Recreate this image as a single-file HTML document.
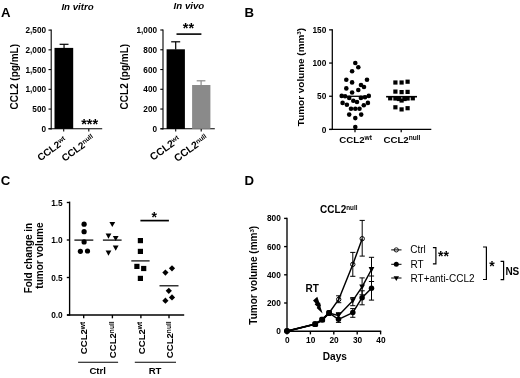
<!DOCTYPE html>
<html lang="en">
<head>
<meta charset="utf-8">
<title>Figure</title>
<style>
html,body{margin:0;padding:0;background:#fff;}
body{width:520px;height:378px;overflow:hidden;}
svg{display:block;font-family:"Liberation Sans", sans-serif;filter:blur(0.45px);}
</style>
</head>
<body>
<svg width="520" height="378" viewBox="0 0 520 378">
<rect x="0" y="0" width="520" height="378" fill="#fff"/>
<text x="0.90" y="17.00" font-size="13.2" font-weight="bold" font-style="normal" text-anchor="start" fill="#000">A</text>
<text x="244.60" y="17.10" font-size="13.2" font-weight="bold" font-style="normal" text-anchor="start" fill="#000">B</text>
<text x="0.80" y="185.10" font-size="13.2" font-weight="bold" font-style="normal" text-anchor="start" fill="#000">C</text>
<text x="244.40" y="185.20" font-size="13.2" font-weight="bold" font-style="normal" text-anchor="start" fill="#000">D</text>
<line x1="51.20" y1="29.50" x2="51.20" y2="129.40" stroke="#000" stroke-width="1.1" stroke-linecap="butt"/>
<line x1="48.50" y1="128.80" x2="102.20" y2="128.80" stroke="#000" stroke-width="1.1" stroke-linecap="butt"/>
<line x1="48.50" y1="128.80" x2="51.20" y2="128.80" stroke="#000" stroke-width="1.1" stroke-linecap="butt"/>
<text x="46.00" y="131.85" font-size="8.2" font-weight="bold" font-style="normal" text-anchor="end" fill="#000">0</text>
<line x1="48.50" y1="109.06" x2="51.20" y2="109.06" stroke="#000" stroke-width="1.1" stroke-linecap="butt"/>
<text x="46.00" y="112.11" font-size="8.2" font-weight="bold" font-style="normal" text-anchor="end" fill="#000">500</text>
<line x1="48.50" y1="89.32" x2="51.20" y2="89.32" stroke="#000" stroke-width="1.1" stroke-linecap="butt"/>
<text x="46.00" y="92.37" font-size="8.2" font-weight="bold" font-style="normal" text-anchor="end" fill="#000">1,000</text>
<line x1="48.50" y1="69.58" x2="51.20" y2="69.58" stroke="#000" stroke-width="1.1" stroke-linecap="butt"/>
<text x="46.00" y="72.63" font-size="8.2" font-weight="bold" font-style="normal" text-anchor="end" fill="#000">1,500</text>
<line x1="48.50" y1="49.84" x2="51.20" y2="49.84" stroke="#000" stroke-width="1.1" stroke-linecap="butt"/>
<text x="46.00" y="52.89" font-size="8.2" font-weight="bold" font-style="normal" text-anchor="end" fill="#000">2,000</text>
<line x1="48.50" y1="30.10" x2="51.20" y2="30.10" stroke="#000" stroke-width="1.1" stroke-linecap="butt"/>
<text x="46.00" y="33.15" font-size="8.2" font-weight="bold" font-style="normal" text-anchor="end" fill="#000">2,500</text>
<line x1="63.70" y1="128.80" x2="63.70" y2="131.50" stroke="#000" stroke-width="1.1" stroke-linecap="butt"/>
<line x1="88.80" y1="128.80" x2="88.80" y2="131.50" stroke="#000" stroke-width="1.1" stroke-linecap="butt"/>
<rect x="54.5" y="47.9" width="18.7" height="81.00" fill="#000"/>
<line x1="64.05" y1="44.30" x2="64.05" y2="48.00" stroke="#000" stroke-width="1.2" stroke-linecap="butt"/>
<line x1="59.60" y1="44.30" x2="68.50" y2="44.30" stroke="#000" stroke-width="1.2" stroke-linecap="butt"/>
<text x="89.65" y="128.90" font-size="14.5" font-weight="bold" font-style="normal" text-anchor="middle" fill="#000">***</text>
<text x="61.40" y="10.20" font-size="9.7" font-weight="bold" font-style="italic" text-anchor="start" fill="#000">In vitro</text>
<text x="18.00" y="76.80" font-size="10.0" font-weight="bold" font-style="normal" text-anchor="middle" fill="#000" transform="rotate(-90 18.00 76.80)">CCL2 (pg/mL)</text>
<text x="67.30" y="141.60" font-size="10.0" font-weight="bold" font-style="normal" text-anchor="end" fill="#000" transform="rotate(-36.5 67.30 141.60)">CCL2<tspan font-size="6.6" dy="-2.9">wt</tspan></text>
<text x="95.20" y="139.60" font-size="10.0" font-weight="bold" font-style="normal" text-anchor="end" fill="#000" transform="rotate(-36.5 95.20 139.60)">CCL2<tspan font-size="6.6" dy="-2.9">null</tspan></text>
<line x1="163.00" y1="29.40" x2="163.00" y2="129.40" stroke="#000" stroke-width="1.1" stroke-linecap="butt"/>
<line x1="160.50" y1="128.80" x2="214.80" y2="128.80" stroke="#000" stroke-width="1.1" stroke-linecap="butt"/>
<line x1="160.30" y1="128.80" x2="163.00" y2="128.80" stroke="#000" stroke-width="1.1" stroke-linecap="butt"/>
<text x="157.00" y="131.85" font-size="8.2" font-weight="bold" font-style="normal" text-anchor="end" fill="#000">0</text>
<line x1="160.30" y1="109.04" x2="163.00" y2="109.04" stroke="#000" stroke-width="1.1" stroke-linecap="butt"/>
<text x="157.00" y="112.09" font-size="8.2" font-weight="bold" font-style="normal" text-anchor="end" fill="#000">200</text>
<line x1="160.30" y1="89.28" x2="163.00" y2="89.28" stroke="#000" stroke-width="1.1" stroke-linecap="butt"/>
<text x="157.00" y="92.33" font-size="8.2" font-weight="bold" font-style="normal" text-anchor="end" fill="#000">400</text>
<line x1="160.30" y1="69.52" x2="163.00" y2="69.52" stroke="#000" stroke-width="1.1" stroke-linecap="butt"/>
<text x="157.00" y="72.57" font-size="8.2" font-weight="bold" font-style="normal" text-anchor="end" fill="#000">600</text>
<line x1="160.30" y1="49.76" x2="163.00" y2="49.76" stroke="#000" stroke-width="1.1" stroke-linecap="butt"/>
<text x="157.00" y="52.81" font-size="8.2" font-weight="bold" font-style="normal" text-anchor="end" fill="#000">800</text>
<line x1="160.30" y1="30.00" x2="163.00" y2="30.00" stroke="#000" stroke-width="1.1" stroke-linecap="butt"/>
<text x="157.00" y="33.05" font-size="8.2" font-weight="bold" font-style="normal" text-anchor="end" fill="#000">1,000</text>
<line x1="175.70" y1="128.80" x2="175.70" y2="131.50" stroke="#000" stroke-width="1.1" stroke-linecap="butt"/>
<line x1="201.20" y1="128.80" x2="201.20" y2="131.50" stroke="#000" stroke-width="1.1" stroke-linecap="butt"/>
<rect x="166.6" y="49.3" width="18.3" height="79.70" fill="#000"/>
<line x1="175.70" y1="41.80" x2="175.70" y2="49.50" stroke="#000" stroke-width="1.2" stroke-linecap="butt"/>
<line x1="171.20" y1="41.80" x2="180.20" y2="41.80" stroke="#000" stroke-width="1.2" stroke-linecap="butt"/>
<rect x="192.1" y="85.0" width="18.3" height="43.80" fill="#8a8a8a"/>
<line x1="201.10" y1="80.80" x2="201.10" y2="85.20" stroke="#8a8a8a" stroke-width="1.2" stroke-linecap="butt"/>
<line x1="196.70" y1="80.80" x2="205.40" y2="80.80" stroke="#8a8a8a" stroke-width="1.2" stroke-linecap="butt"/>
<line x1="176.50" y1="34.10" x2="201.40" y2="34.10" stroke="#000" stroke-width="1.6" stroke-linecap="butt"/>
<text x="188.50" y="32.50" font-size="14.5" font-weight="bold" font-style="normal" text-anchor="middle" fill="#000">**</text>
<text x="173.60" y="8.80" font-size="9.7" font-weight="bold" font-style="italic" text-anchor="start" fill="#000">In vivo</text>
<text x="128.30" y="76.60" font-size="10.0" font-weight="bold" font-style="normal" text-anchor="middle" fill="#000" transform="rotate(-90 128.30 76.60)">CCL2 (pg/mL)</text>
<text x="181.00" y="140.80" font-size="10.4" font-weight="bold" font-style="normal" text-anchor="end" fill="#000" transform="rotate(-36 181.00 140.80)">CCL2<tspan font-size="6.6" dy="-2.9">wt</tspan></text>
<text x="208.60" y="139.40" font-size="10.4" font-weight="bold" font-style="normal" text-anchor="end" fill="#000" transform="rotate(-36 208.60 139.40)">CCL2<tspan font-size="6.6" dy="-2.9">null</tspan></text>
<line x1="332.30" y1="29.20" x2="332.30" y2="130.05" stroke="#000" stroke-width="1.25" stroke-linecap="butt"/>
<line x1="329.30" y1="129.45" x2="431.30" y2="129.45" stroke="#000" stroke-width="1.25" stroke-linecap="butt"/>
<line x1="329.10" y1="129.45" x2="332.30" y2="129.45" stroke="#000" stroke-width="1.25" stroke-linecap="butt"/>
<text x="326.30" y="132.60" font-size="8.3" font-weight="bold" font-style="normal" text-anchor="end" fill="#000">0</text>
<line x1="329.10" y1="96.25" x2="332.30" y2="96.25" stroke="#000" stroke-width="1.25" stroke-linecap="butt"/>
<text x="326.30" y="99.40" font-size="8.3" font-weight="bold" font-style="normal" text-anchor="end" fill="#000">50</text>
<line x1="329.10" y1="63.05" x2="332.30" y2="63.05" stroke="#000" stroke-width="1.25" stroke-linecap="butt"/>
<text x="326.30" y="66.20" font-size="8.3" font-weight="bold" font-style="normal" text-anchor="end" fill="#000">100</text>
<line x1="329.10" y1="29.85" x2="332.30" y2="29.85" stroke="#000" stroke-width="1.25" stroke-linecap="butt"/>
<text x="326.30" y="33.00" font-size="8.3" font-weight="bold" font-style="normal" text-anchor="end" fill="#000">150</text>
<line x1="355.00" y1="129.45" x2="355.00" y2="132.25" stroke="#000" stroke-width="1.25" stroke-linecap="butt"/>
<line x1="401.20" y1="129.45" x2="401.20" y2="132.25" stroke="#000" stroke-width="1.25" stroke-linecap="butt"/>
<text x="304.20" y="77.00" font-size="9.95" font-weight="bold" font-style="normal" text-anchor="middle" fill="#000" transform="rotate(-90 304.20 77.00)">Tumor volume (mm<tspan font-size="6.2" dy="-3.4">3</tspan><tspan dy="3.4">)</tspan></text>
<text x="339.30" y="143.30" font-size="9.7" font-weight="bold" font-style="normal" text-anchor="start" fill="#000">CCL2<tspan font-size="6.6" dy="-2.9">wt</tspan></text>
<text x="383.40" y="143.30" font-size="9.7" font-weight="bold" font-style="normal" text-anchor="start" fill="#000">CCL2<tspan font-size="6.6" dy="-2.9">null</tspan></text>
<circle cx="355.3" cy="63.0" r="2.3" fill="#000"/>
<circle cx="358.3" cy="67.2" r="2.3" fill="#000"/>
<circle cx="352.1" cy="71.2" r="2.3" fill="#000"/>
<circle cx="346.3" cy="79.8" r="2.3" fill="#000"/>
<circle cx="367.0" cy="79.8" r="2.3" fill="#000"/>
<circle cx="352.1" cy="82.4" r="2.3" fill="#000"/>
<circle cx="361.0" cy="85.0" r="2.3" fill="#000"/>
<circle cx="364.0" cy="87.0" r="2.3" fill="#000"/>
<circle cx="346.3" cy="88.4" r="2.3" fill="#000"/>
<circle cx="358.3" cy="90.0" r="2.3" fill="#000"/>
<circle cx="352.1" cy="92.5" r="2.3" fill="#000"/>
<circle cx="341.7" cy="95.9" r="2.3" fill="#000"/>
<circle cx="345.1" cy="96.2" r="2.3" fill="#000"/>
<circle cx="349.2" cy="97.9" r="2.3" fill="#000"/>
<circle cx="360.9" cy="97.9" r="2.3" fill="#000"/>
<circle cx="365.0" cy="97.3" r="2.3" fill="#000"/>
<circle cx="368.8" cy="95.9" r="2.3" fill="#000"/>
<circle cx="353.3" cy="100.8" r="2.3" fill="#000"/>
<circle cx="357.0" cy="102.0" r="2.3" fill="#000"/>
<circle cx="342.6" cy="102.9" r="2.3" fill="#000"/>
<circle cx="346.9" cy="104.7" r="2.3" fill="#000"/>
<circle cx="363.8" cy="105.2" r="2.3" fill="#000"/>
<circle cx="367.9" cy="102.9" r="2.3" fill="#000"/>
<circle cx="351.0" cy="108.7" r="2.3" fill="#000"/>
<circle cx="355.3" cy="108.7" r="2.3" fill="#000"/>
<circle cx="359.5" cy="108.7" r="2.3" fill="#000"/>
<circle cx="349.2" cy="114.6" r="2.3" fill="#000"/>
<circle cx="361.2" cy="114.6" r="2.3" fill="#000"/>
<circle cx="355.3" cy="118.1" r="2.3" fill="#000"/>
<circle cx="355.3" cy="127.0" r="2.3" fill="#000"/>
<line x1="343.30" y1="96.30" x2="367.30" y2="96.30" stroke="#000" stroke-width="1.3" stroke-linecap="butt"/>
<rect x="393.30" y="80.40" width="4.2" height="4.2" fill="#000"/>
<rect x="399.50" y="80.40" width="4.2" height="4.2" fill="#000"/>
<rect x="405.50" y="79.60" width="4.2" height="4.2" fill="#000"/>
<rect x="393.30" y="89.50" width="4.2" height="4.2" fill="#000"/>
<rect x="399.50" y="90.00" width="4.2" height="4.2" fill="#000"/>
<rect x="405.50" y="89.80" width="4.2" height="4.2" fill="#000"/>
<rect x="388.10" y="96.20" width="4.2" height="4.2" fill="#000"/>
<rect x="393.30" y="96.40" width="4.2" height="4.2" fill="#000"/>
<rect x="396.90" y="96.90" width="4.2" height="4.2" fill="#000"/>
<rect x="399.50" y="98.40" width="4.2" height="4.2" fill="#000"/>
<rect x="402.40" y="96.90" width="4.2" height="4.2" fill="#000"/>
<rect x="405.50" y="96.40" width="4.2" height="4.2" fill="#000"/>
<rect x="410.70" y="96.20" width="4.2" height="4.2" fill="#000"/>
<rect x="393.30" y="105.20" width="4.2" height="4.2" fill="#000"/>
<rect x="399.50" y="107.30" width="4.2" height="4.2" fill="#000"/>
<rect x="405.50" y="106.10" width="4.2" height="4.2" fill="#000"/>
<line x1="386.10" y1="96.70" x2="417.00" y2="96.70" stroke="#000" stroke-width="1.6" stroke-linecap="butt"/>
<line x1="69.60" y1="201.60" x2="69.60" y2="315.60" stroke="#000" stroke-width="1.35" stroke-linecap="butt"/>
<line x1="67.00" y1="315.00" x2="184.20" y2="315.00" stroke="#000" stroke-width="1.35" stroke-linecap="butt"/>
<line x1="66.80" y1="315.00" x2="69.60" y2="315.00" stroke="#000" stroke-width="1.35" stroke-linecap="butt"/>
<text x="62.70" y="318.20" font-size="8.3" font-weight="bold" font-style="normal" text-anchor="end" fill="#000">0.0</text>
<line x1="66.80" y1="277.50" x2="69.60" y2="277.50" stroke="#000" stroke-width="1.35" stroke-linecap="butt"/>
<text x="62.70" y="280.70" font-size="8.3" font-weight="bold" font-style="normal" text-anchor="end" fill="#000">0.5</text>
<line x1="66.80" y1="240.00" x2="69.60" y2="240.00" stroke="#000" stroke-width="1.35" stroke-linecap="butt"/>
<text x="62.70" y="243.20" font-size="8.3" font-weight="bold" font-style="normal" text-anchor="end" fill="#000">1.0</text>
<line x1="66.80" y1="202.50" x2="69.60" y2="202.50" stroke="#000" stroke-width="1.35" stroke-linecap="butt"/>
<text x="62.70" y="205.70" font-size="8.3" font-weight="bold" font-style="normal" text-anchor="end" fill="#000">1.5</text>
<line x1="83.70" y1="315.00" x2="83.70" y2="318.30" stroke="#000" stroke-width="1.35" stroke-linecap="butt"/>
<line x1="112.40" y1="315.00" x2="112.40" y2="318.30" stroke="#000" stroke-width="1.35" stroke-linecap="butt"/>
<line x1="140.90" y1="315.00" x2="140.90" y2="318.30" stroke="#000" stroke-width="1.35" stroke-linecap="butt"/>
<line x1="169.00" y1="315.00" x2="169.00" y2="318.30" stroke="#000" stroke-width="1.35" stroke-linecap="butt"/>
<text x="31.60" y="258.10" font-size="10.0" font-weight="bold" font-style="normal" text-anchor="middle" fill="#000" transform="rotate(-90 31.60 258.10)">Fold change in</text>
<text x="43.40" y="255.60" font-size="10.0" font-weight="bold" font-style="normal" text-anchor="middle" fill="#000" transform="rotate(-90 43.40 255.60)">tumor volume</text>
<circle cx="84.1" cy="224.2" r="2.6" fill="#000"/>
<circle cx="84.1" cy="231.7" r="2.6" fill="#000"/>
<circle cx="84.1" cy="241.9" r="2.6" fill="#000"/>
<circle cx="80.4" cy="251.3" r="2.6" fill="#000"/>
<circle cx="87.5" cy="251.0" r="2.6" fill="#000"/>
<line x1="74.40" y1="240.10" x2="93.30" y2="240.10" stroke="#000" stroke-width="1.25" stroke-linecap="butt"/>
<polygon points="109.40,221.90 115.20,221.90 112.30,227.10" fill="#000"/>
<polygon points="105.60,233.60 111.40,233.60 108.50,238.80" fill="#000"/>
<polygon points="112.80,235.90 118.60,235.90 115.70,241.10" fill="#000"/>
<polygon points="112.80,245.50 118.60,245.50 115.70,250.70" fill="#000"/>
<polygon points="105.60,250.60 111.40,250.60 108.50,255.80" fill="#000"/>
<line x1="102.90" y1="240.10" x2="121.60" y2="240.10" stroke="#000" stroke-width="1.25" stroke-linecap="butt"/>
<rect x="137.80" y="238.00" width="5.2" height="5.2" fill="#000"/>
<rect x="137.80" y="248.80" width="5.2" height="5.2" fill="#000"/>
<rect x="134.30" y="263.80" width="5.2" height="5.2" fill="#000"/>
<rect x="141.10" y="265.90" width="5.2" height="5.2" fill="#000"/>
<rect x="137.80" y="275.80" width="5.2" height="5.2" fill="#000"/>
<line x1="131.30" y1="260.90" x2="149.60" y2="260.90" stroke="#000" stroke-width="1.2" stroke-linecap="butt"/>
<polygon points="168.90,268.30 172.00,265.20 175.10,268.30 172.00,271.40" fill="#000"/>
<polygon points="162.30,272.60 165.40,269.50 168.50,272.60 165.40,275.70" fill="#000"/>
<polygon points="165.70,290.80 168.80,287.70 171.90,290.80 168.80,293.90" fill="#000"/>
<polygon points="168.90,297.40 172.00,294.30 175.10,297.40 172.00,300.50" fill="#000"/>
<polygon points="162.30,300.70 165.40,297.60 168.50,300.70 165.40,303.80" fill="#000"/>
<line x1="159.50" y1="285.80" x2="178.50" y2="285.80" stroke="#000" stroke-width="1.2" stroke-linecap="butt"/>
<line x1="140.40" y1="220.60" x2="168.90" y2="220.60" stroke="#000" stroke-width="1.7" stroke-linecap="butt"/>
<text x="154.20" y="221.50" font-size="14" font-weight="bold" font-style="normal" text-anchor="middle" fill="#000">*</text>
<text x="87.20" y="354.20" font-size="9.6" font-weight="bold" font-style="normal" text-anchor="start" fill="#000" transform="rotate(-90 87.20 354.20)">CCL2<tspan font-size="6.6" dy="-2.5">wt</tspan></text>
<text x="116.50" y="358.20" font-size="9.6" font-weight="bold" font-style="normal" text-anchor="start" fill="#000" transform="rotate(-90 116.50 358.20)">CCL2<tspan font-size="6.6" dy="-2.5">null</tspan></text>
<text x="144.70" y="354.20" font-size="9.6" font-weight="bold" font-style="normal" text-anchor="start" fill="#000" transform="rotate(-90 144.70 354.20)">CCL2<tspan font-size="6.6" dy="-2.5">wt</tspan></text>
<text x="173.10" y="358.20" font-size="9.6" font-weight="bold" font-style="normal" text-anchor="start" fill="#000" transform="rotate(-90 173.10 358.20)">CCL2<tspan font-size="6.6" dy="-2.5">null</tspan></text>
<line x1="78.10" y1="362.20" x2="118.10" y2="362.20" stroke="#000" stroke-width="1.1" stroke-linecap="butt"/>
<line x1="134.80" y1="362.20" x2="176.00" y2="362.20" stroke="#000" stroke-width="1.1" stroke-linecap="butt"/>
<text x="97.70" y="374.30" font-size="9.6" font-weight="bold" font-style="normal" text-anchor="middle" fill="#000">Ctrl</text>
<text x="155.10" y="374.30" font-size="9.6" font-weight="bold" font-style="normal" text-anchor="middle" fill="#000">RT</text>
<line x1="287.00" y1="217.80" x2="287.00" y2="331.80" stroke="#000" stroke-width="1.35" stroke-linecap="butt"/>
<line x1="284.10" y1="331.20" x2="381.20" y2="331.20" stroke="#000" stroke-width="1.35" stroke-linecap="butt"/>
<line x1="284.10" y1="331.20" x2="287.00" y2="331.20" stroke="#000" stroke-width="1.35" stroke-linecap="butt"/>
<text x="280.80" y="334.20" font-size="8.3" font-weight="bold" font-style="normal" text-anchor="end" fill="#000">0</text>
<line x1="284.10" y1="303.00" x2="287.00" y2="303.00" stroke="#000" stroke-width="1.35" stroke-linecap="butt"/>
<text x="280.80" y="306.00" font-size="8.3" font-weight="bold" font-style="normal" text-anchor="end" fill="#000">200</text>
<line x1="284.10" y1="274.80" x2="287.00" y2="274.80" stroke="#000" stroke-width="1.35" stroke-linecap="butt"/>
<text x="280.80" y="277.80" font-size="8.3" font-weight="bold" font-style="normal" text-anchor="end" fill="#000">400</text>
<line x1="284.10" y1="246.60" x2="287.00" y2="246.60" stroke="#000" stroke-width="1.35" stroke-linecap="butt"/>
<text x="280.80" y="249.60" font-size="8.3" font-weight="bold" font-style="normal" text-anchor="end" fill="#000">600</text>
<line x1="284.10" y1="218.40" x2="287.00" y2="218.40" stroke="#000" stroke-width="1.35" stroke-linecap="butt"/>
<text x="280.80" y="221.40" font-size="8.3" font-weight="bold" font-style="normal" text-anchor="end" fill="#000">800</text>
<line x1="287.00" y1="331.20" x2="287.00" y2="334.40" stroke="#000" stroke-width="1.35" stroke-linecap="butt"/>
<text x="287.30" y="342.70" font-size="8.3" font-weight="bold" font-style="normal" text-anchor="middle" fill="#000">0</text>
<line x1="310.40" y1="331.20" x2="310.40" y2="334.40" stroke="#000" stroke-width="1.35" stroke-linecap="butt"/>
<text x="310.70" y="342.70" font-size="8.3" font-weight="bold" font-style="normal" text-anchor="middle" fill="#000">10</text>
<line x1="333.80" y1="331.20" x2="333.80" y2="334.40" stroke="#000" stroke-width="1.35" stroke-linecap="butt"/>
<text x="334.10" y="342.70" font-size="8.3" font-weight="bold" font-style="normal" text-anchor="middle" fill="#000">20</text>
<line x1="357.20" y1="331.20" x2="357.20" y2="334.40" stroke="#000" stroke-width="1.35" stroke-linecap="butt"/>
<text x="357.50" y="342.70" font-size="8.3" font-weight="bold" font-style="normal" text-anchor="middle" fill="#000">30</text>
<line x1="380.60" y1="331.20" x2="380.60" y2="334.40" stroke="#000" stroke-width="1.35" stroke-linecap="butt"/>
<text x="380.90" y="342.70" font-size="8.3" font-weight="bold" font-style="normal" text-anchor="middle" fill="#000">40</text>
<text x="257.20" y="275.20" font-size="10.0" font-weight="bold" font-style="normal" text-anchor="middle" fill="#000" transform="rotate(-90 257.20 275.20)">Tumor volume (mm<tspan font-size="6.2" dy="-3.4">3</tspan><tspan dy="3.4">)</tspan></text>
<text x="334.90" y="360.40" font-size="10.1" font-weight="bold" font-style="normal" text-anchor="middle" fill="#000">Days</text>
<text x="320.10" y="213.30" font-size="10.0" font-weight="bold" font-style="normal" text-anchor="start" fill="#000">CCL2<tspan font-size="6.3" dy="-3.1">null</tspan></text>
<text x="305.60" y="291.90" font-size="10" font-weight="bold" font-style="normal" text-anchor="start" fill="#000">RT</text>
<polygon points="317.3,296.8 319.3,302.4 320.1,302.7 321.0,306.0 320.4,306.5 322.6,313.4 316.7,307.9 317.4,306.7 314.7,304.5 315.5,303.3 313.0,300.6" fill="#000"/>
<line x1="338.70" y1="295.80" x2="338.70" y2="302.70" stroke="#000" stroke-width="1.0" stroke-linecap="butt"/>
<line x1="336.10" y1="295.80" x2="341.30" y2="295.80" stroke="#000" stroke-width="1.0" stroke-linecap="butt"/>
<line x1="336.10" y1="302.70" x2="341.30" y2="302.70" stroke="#000" stroke-width="1.0" stroke-linecap="butt"/>
<line x1="352.80" y1="252.40" x2="352.80" y2="276.30" stroke="#000" stroke-width="1.0" stroke-linecap="butt"/>
<line x1="350.20" y1="252.40" x2="355.40" y2="252.40" stroke="#000" stroke-width="1.0" stroke-linecap="butt"/>
<line x1="350.20" y1="276.30" x2="355.40" y2="276.30" stroke="#000" stroke-width="1.0" stroke-linecap="butt"/>
<line x1="362.20" y1="220.40" x2="362.20" y2="256.10" stroke="#000" stroke-width="1.0" stroke-linecap="butt"/>
<line x1="359.60" y1="220.40" x2="364.80" y2="220.40" stroke="#000" stroke-width="1.0" stroke-linecap="butt"/>
<line x1="359.60" y1="256.10" x2="364.80" y2="256.10" stroke="#000" stroke-width="1.0" stroke-linecap="butt"/>
<line x1="338.50" y1="312.70" x2="338.50" y2="322.40" stroke="#000" stroke-width="1.0" stroke-linecap="butt"/>
<line x1="335.90" y1="312.70" x2="341.10" y2="312.70" stroke="#000" stroke-width="1.0" stroke-linecap="butt"/>
<line x1="335.90" y1="322.40" x2="341.10" y2="322.40" stroke="#000" stroke-width="1.0" stroke-linecap="butt"/>
<line x1="352.80" y1="308.60" x2="352.80" y2="317.30" stroke="#000" stroke-width="1.0" stroke-linecap="butt"/>
<line x1="350.20" y1="308.60" x2="355.40" y2="308.60" stroke="#000" stroke-width="1.0" stroke-linecap="butt"/>
<line x1="350.20" y1="317.30" x2="355.40" y2="317.30" stroke="#000" stroke-width="1.0" stroke-linecap="butt"/>
<line x1="362.10" y1="290.80" x2="362.10" y2="304.80" stroke="#000" stroke-width="1.0" stroke-linecap="butt"/>
<line x1="359.50" y1="290.80" x2="364.70" y2="290.80" stroke="#000" stroke-width="1.0" stroke-linecap="butt"/>
<line x1="359.50" y1="304.80" x2="364.70" y2="304.80" stroke="#000" stroke-width="1.0" stroke-linecap="butt"/>
<line x1="371.50" y1="276.00" x2="371.50" y2="300.10" stroke="#000" stroke-width="1.0" stroke-linecap="butt"/>
<line x1="368.90" y1="276.00" x2="374.10" y2="276.00" stroke="#000" stroke-width="1.0" stroke-linecap="butt"/>
<line x1="368.90" y1="300.10" x2="374.10" y2="300.10" stroke="#000" stroke-width="1.0" stroke-linecap="butt"/>
<line x1="352.80" y1="297.60" x2="352.80" y2="305.70" stroke="#000" stroke-width="1.0" stroke-linecap="butt"/>
<line x1="350.20" y1="297.60" x2="355.40" y2="297.60" stroke="#000" stroke-width="1.0" stroke-linecap="butt"/>
<line x1="350.20" y1="305.70" x2="355.40" y2="305.70" stroke="#000" stroke-width="1.0" stroke-linecap="butt"/>
<line x1="362.10" y1="277.90" x2="362.10" y2="294.80" stroke="#000" stroke-width="1.0" stroke-linecap="butt"/>
<line x1="359.50" y1="277.90" x2="364.70" y2="277.90" stroke="#000" stroke-width="1.0" stroke-linecap="butt"/>
<line x1="359.50" y1="294.80" x2="364.70" y2="294.80" stroke="#000" stroke-width="1.0" stroke-linecap="butt"/>
<line x1="371.50" y1="257.30" x2="371.50" y2="281.50" stroke="#000" stroke-width="1.0" stroke-linecap="butt"/>
<line x1="368.90" y1="257.30" x2="374.10" y2="257.30" stroke="#000" stroke-width="1.0" stroke-linecap="butt"/>
<line x1="368.90" y1="281.50" x2="374.10" y2="281.50" stroke="#000" stroke-width="1.0" stroke-linecap="butt"/>
<polyline points="287.00,331.10 315.20,324.10 322.20,319.70 329.10,313.00" fill="none" stroke="#000" stroke-width="2.0" stroke-linejoin="round"/>
<polyline points="287.00,331.10 315.20,324.10 322.20,319.70 329.10,313.00 338.50,319.30 352.80,312.60 362.10,297.70 371.50,288.30" fill="none" stroke="#000" stroke-width="1.45" stroke-linejoin="round"/>
<polyline points="287.00,331.10 315.20,324.10 322.20,319.70 329.10,313.00 338.50,315.60 352.80,300.70 362.10,286.90 371.50,269.50" fill="none" stroke="#000" stroke-width="1.45" stroke-linejoin="round"/>
<polyline points="287.00,331.10 315.20,324.10 322.20,319.70 329.10,313.00 338.70,299.40 352.80,264.40 362.20,238.70" fill="none" stroke="#000" stroke-width="1.45" stroke-linejoin="round"/>
<circle cx="287.0" cy="331.1" r="2.75" fill="#000"/>
<circle cx="315.2" cy="324.1" r="2.75" fill="#000"/>
<circle cx="322.2" cy="319.7" r="2.75" fill="#000"/>
<circle cx="329.1" cy="313.0" r="2.75" fill="#000"/>
<circle cx="338.5" cy="319.3" r="2.75" fill="#000"/>
<circle cx="352.8" cy="312.6" r="2.75" fill="#000"/>
<circle cx="362.1" cy="297.7" r="2.75" fill="#000"/>
<circle cx="371.5" cy="288.3" r="2.75" fill="#000"/>
<rect x="312.30" y="321.20" width="5.8" height="5.8" rx="1.6" fill="#000"/>
<rect x="319.30" y="316.80" width="5.8" height="5.8" rx="1.6" fill="#000"/>
<rect x="326.20" y="310.10" width="5.8" height="5.8" rx="1.6" fill="#000"/>
<polygon points="335.60,313.10 341.40,313.10 338.50,318.50" fill="#000"/>
<polygon points="349.90,298.20 355.70,298.20 352.80,303.60" fill="#000"/>
<polygon points="359.20,284.40 365.00,284.40 362.10,289.80" fill="#000"/>
<polygon points="368.60,267.00 374.40,267.00 371.50,272.40" fill="#000"/>
<circle cx="338.7" cy="299.4" r="2.2" fill="none" stroke="#000" stroke-width="1"/>
<circle cx="352.8" cy="264.4" r="2.2" fill="none" stroke="#000" stroke-width="1"/>
<circle cx="362.20000000000005" cy="238.7" r="2.2" fill="none" stroke="#000" stroke-width="1"/>
<circle cx="287.0" cy="331.1" r="3.0" fill="#000"/>
<line x1="391.20" y1="249.90" x2="401.50" y2="249.90" stroke="#000" stroke-width="1.0" stroke-linecap="butt"/>
<circle cx="396.3" cy="249.9" r="2.1" fill="none" stroke="#000" stroke-width="0.9"/>
<line x1="391.20" y1="264.30" x2="401.50" y2="264.30" stroke="#000" stroke-width="1.0" stroke-linecap="butt"/>
<circle cx="396.3" cy="264.3" r="2.5" fill="#000"/>
<line x1="391.20" y1="278.00" x2="401.50" y2="278.00" stroke="#000" stroke-width="1.0" stroke-linecap="butt"/>
<polygon points="393.60,276.20 399.00,276.20 396.30,281.00" fill="#000"/>
<text x="410.20" y="253.40" font-size="10.0" font-weight="normal" font-style="normal" text-anchor="start" fill="#000">Ctrl</text>
<text x="410.50" y="267.80" font-size="10.0" font-weight="normal" font-style="normal" text-anchor="start" fill="#000">RT</text>
<text x="410.50" y="281.70" font-size="10.0" font-weight="normal" font-style="normal" text-anchor="start" fill="#000">RT+anti-CCL2</text>
<polyline points="432.90,247.70 435.90,247.70 435.90,263.90 432.90,263.90" fill="none" stroke="#000" stroke-width="1.2"/>
<text x="438.00" y="261.10" font-size="14" font-weight="bold" font-style="normal" text-anchor="start" fill="#000">**</text>
<polyline points="483.00,247.00 486.40,247.00 486.40,279.50 483.00,279.50" fill="none" stroke="#000" stroke-width="1.2"/>
<text x="489.20" y="270.60" font-size="14" font-weight="bold" font-style="normal" text-anchor="start" fill="#000">*</text>
<polyline points="500.60,261.40 503.60,261.40 503.60,279.70 500.60,279.70" fill="none" stroke="#000" stroke-width="1.2"/>
<text x="505.40" y="274.50" font-size="10.0" font-weight="bold" font-style="normal" text-anchor="start" fill="#000">NS</text>
</svg>
</body>
</html>
